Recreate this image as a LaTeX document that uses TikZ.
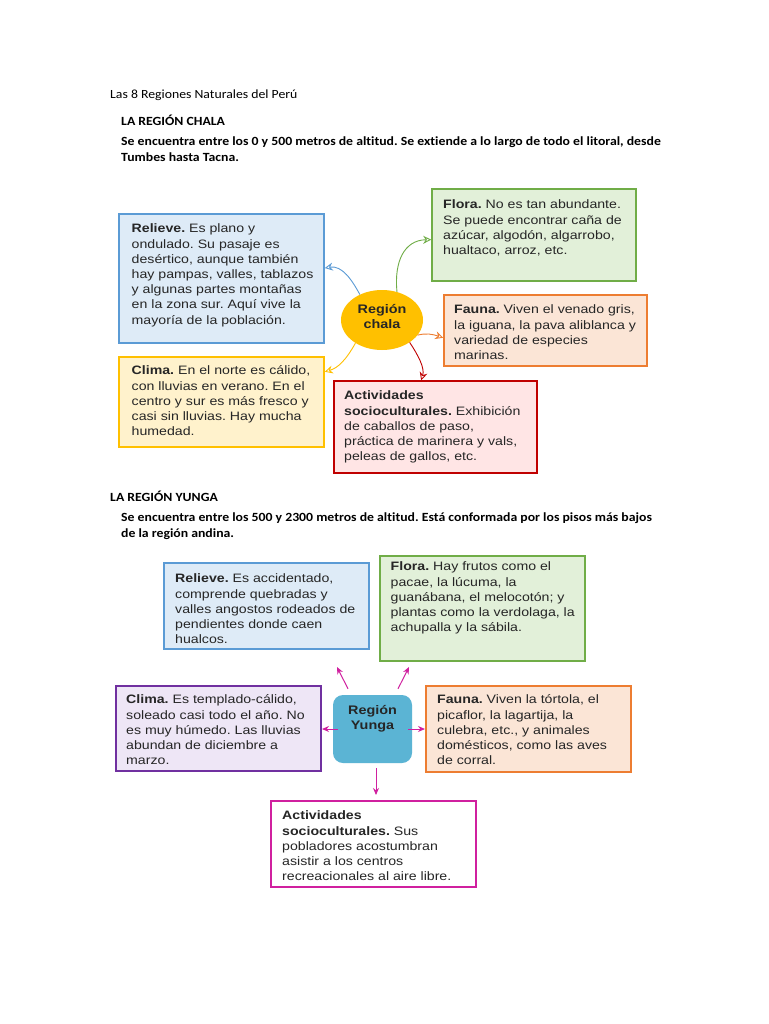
\documentclass[tikz,border=0pt]{standalone}
\usepackage{fontspec}
\setmainfont[FakeStretch=1.1, Ligatures=CommonOff]{Carlito}
\newfontfamily\arialf[FakeStretch=1.16]{Liberation Sans}
\usetikzlibrary{arrows.meta,calc,shapes.geometric}
\definecolor{bB}{HTML}{5B9BD5}\definecolor{bF}{HTML}{DEEBF7}
\definecolor{gB}{HTML}{70AD47}\definecolor{gF}{HTML}{E2F0D9}
\definecolor{oB}{HTML}{ED7D31}\definecolor{oF}{HTML}{FBE5D6}
\definecolor{yB}{HTML}{FFC000}\definecolor{yF}{HTML}{FFF2CC}
\definecolor{rB}{HTML}{C00000}\definecolor{rF}{HTML}{FFE5E5}
\definecolor{pB}{HTML}{7030A0}\definecolor{pF}{HTML}{EEE6F6}
\definecolor{mB}{HTML}{D0209F}
\definecolor{cyF}{HTML}{5BB4D4}
\definecolor{txc}{HTML}{262626}
\newcommand\fl{\rule{0pt}{11pt}}
\frenchspacing
\begin{document}
\frenchspacing
\begin{tikzpicture}[x=1pt,y=-1pt,
  box/.style={line width=1.6pt, inner sep=0, rectangle},
  txt/.style={anchor=north west, inner sep=0, align=left, text=txc,
     font=\arialf\fontsize{12.2}{15.2}\selectfont},
  head/.style={anchor=north west, inner sep=0, align=left,
     font=\fontsize{12.5}{16}\selectfont},
  bhead/.style={head, font=\bfseries\fontsize{12.5}{16}\selectfont},
  ctr/.style={align=center, inner sep=0, text=txc,
     font=\arialf\bfseries\fontsize{12.4}{15}\selectfont},
  cArr/.style={line width=0.9pt, -{Stealth[open, length=8pt, width=8pt]}},
  yArr/.style={draw=mB, line width=1pt, -{Stealth[length=7pt, width=6pt]}}]
\useasboundingbox (0,0) rectangle (768,1024);
\fill[white] (0,0) rectangle (768,1024);

% headings (node placed at first baseline - 11)
\node[head] (t0) at (110,87.5) {\fl Las 8 Regiones Naturales del Perú};
\node[bhead] (t1) at (121,114.5) {\fl LA REGIÓN CHALA};
\node[bhead] (t2) at (121,134) {\fl Se encuentra entre los 0 y 500 metros de altitud. Se extiende a lo largo de todo el litoral, desde\\Tumbes hasta Tacna.};
\node[bhead] (t3) at (110,490) {\fl LA REGIÓN YUNGA};
\node[bhead] (t4) at (121,510) {\fl Se encuentra entre los 500 y 2300 metros de altitud. Está conformada por los pisos más bajos\\de la región andina.};

% ---------- Chala ----------
\node[box, draw=bB, fill=bF, minimum width=205, minimum height=129] (cRel) at (221.5,278.5) {};
\node[box, draw=gB, fill=gF, minimum width=204, minimum height=92] (cFlo) at (534,235) {};
\node[box, draw=oB, fill=oF, minimum width=203, minimum height=71] (cFau) at (545.5,330.5) {};
\node[box, draw=yB, fill=yF, minimum width=205, minimum height=90] (cCli) at (221.5,402) {};
\node[box, draw=rB, fill=rF, minimum width=203, minimum height=92] (cAct) at (435.5,427) {};

\node[txt] (cRelT) at (131.5,221.7) {\fl\textbf{Relieve.} Es plano y\\ondulado. Su pasaje es\\desértico, aunque también\\hay pampas, valles, tablazos\\y algunas partes montañas\\en la zona sur. Aquí vive la\\mayoría de la población.};
\node[txt] (cFloT) at (443,197.7) {\fl\textbf{Flora.} No es tan abundante.\\Se puede encontrar caña de\\azúcar, algodón, algarrobo,\\hualtaco, arroz, etc.};
\node[txt] (cFauT) at (454,302.7) {\fl\textbf{Fauna.} Viven el venado gris,\\la iguana, la pava aliblanca y\\variedad de especies\\marinas.};
\node[txt] (cCliT) at (131.5,363.7) {\fl\textbf{Clima.} En el norte es cálido,\\con lluvias en verano. En el\\centro y sur es más fresco y\\casi sin lluvias. Hay mucha\\humedad.};
\node[txt] (cActT) at (344,388.7) {\fl\textbf{Actividades}\\\textbf{socioculturales.} Exhibición\\de caballos de paso,\\práctica de marinera y vals,\\peleas de gallos, etc.};

\node[ellipse, fill=yB, minimum width=82, minimum height=60, inner sep=0] (chala) at (382,320) {};
\node[ctr] (chalaT) at (382,316.5) {Región\\chala};

\coordinate (cRelE) at ($(cRel.north east)!0.42!(cRel.south east)$);
\coordinate (cFloE) at ($(cFlo.north west)!0.55!(cFlo.south west)$);
\coordinate (cFauE) at ($(cFau.north west)!0.6!(cFau.south west)$);
\coordinate (cCliE) at ($(cCli.north east)!0.17!(cCli.south east)$);
\coordinate (cActE) at ($(cAct.north west)!0.43!(cAct.north east)$);

\draw[cArr, draw=bB] (chala.131) .. controls (352,280) and (342,265) .. (cRelE);
\draw[cArr, draw=gB] (chala.62) .. controls (394,262) and (404,240) .. (cFloE);
\draw[cArr, draw=oB] (chala.337) .. controls (426,333) and (432,334) .. (cFauE);
\draw[cArr, draw=yB] (chala.221) .. controls (346,360) and (338,368) .. (cCliE);
\draw[cArr, draw=rB] (chala.321) .. controls (418,355) and (425,368) .. (cActE);

% ---------- Yunga ----------
\node[box, draw=bB, fill=bF, minimum width=205, minimum height=86] (yRel) at (266.5,606) {};
\node[box, draw=gB, fill=gF, minimum width=205, minimum height=105] (yFlo) at (482.5,608.5) {};
\node[box, draw=pB, fill=pF, minimum width=205, minimum height=85] (yCli) at (218.5,728.5) {};
\node[box, draw=oB, fill=oF, minimum width=205, minimum height=86] (yFau) at (528.5,729) {};
\node[box, draw=mB, fill=white, minimum width=205, minimum height=86] (yAct) at (373.5,844) {};

\node[txt] (yRelT) at (175,571.7) {\fl\textbf{Relieve.} Es accidentado,\\comprende quebradas y\\valles angostos rodeados de\\pendientes donde caen\\hualcos.};
\node[txt] (yFloT) at (390.5,559.7) {\fl\textbf{Flora.} Hay frutos como el\\pacae, la lúcuma, la\\guanábana, el melocotón; y\\plantas como la verdolaga, la\\achupalla y la sábila.};
\node[txt] (yCliT) at (126,692.7) {\fl\textbf{Clima.} Es templado-cálido,\\soleado casi todo el año. No\\es muy húmedo. Las lluvias\\abundan de diciembre a\\marzo.};
\node[txt] (yFauT) at (437,692.7) {\fl\textbf{Fauna.} Viven la tórtola, el\\picaflor, la lagartija, la\\culebra, etc., y animales\\domésticos, como las aves\\de corral.};
\node[txt] (yActT) at (282,808.7) {\fl\textbf{Actividades}\\\textbf{socioculturales.} Sus\\pobladores acostumbran\\asistir a los centros\\recreacionales al aire libre.};

\node[rectangle, rounded corners=10pt, fill=cyF, minimum width=79, minimum height=68, inner sep=0] (yunga) at (372.5,729) {};
\node[ctr] (yungaT) at (372.5,719) {Región\\Yunga};

\coordinate (yA1) at (337,667);
\coordinate (yA2) at (409,667);
\coordinate (yA3) at (322,729);
\coordinate (yA4) at (425,729);
\coordinate (yA5) at (376,795);
\draw[yArr] ($(yunga.north)+(-24.5,-6)$) -- (yA1);
\draw[yArr] ($(yunga.north)+(25.5,-6)$) -- (yA2);
\draw[yArr] ($(yunga.west)+(5,0)$) -- (yA3);
\draw[yArr] ($(yunga.east)+(-4,0)$) -- (yA4);
\draw[yArr] ($(yunga.south)+(3.5,5)$) -- (yA5);
\end{tikzpicture}
\end{document}
